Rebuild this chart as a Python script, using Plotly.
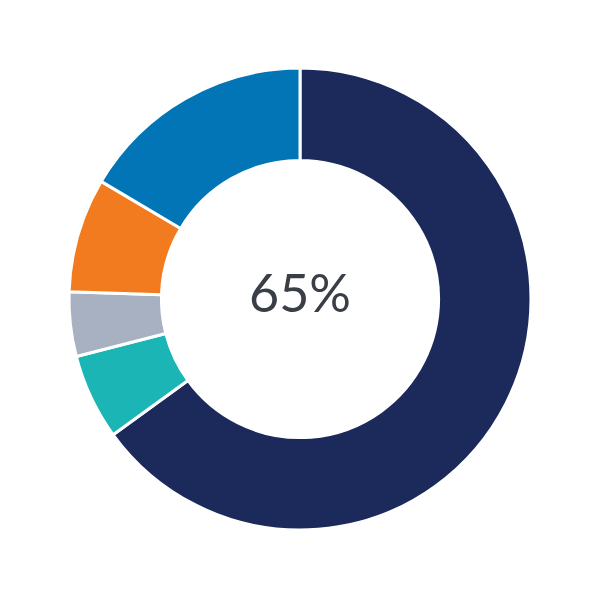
import plotly.graph_objects as go

labels = ["Navy", "Teal", "Gray", "Orange", "Blue"]
values = [65, 6, 4.5, 8, 16.5]
colors = ["#1b2a5b", "#1bb5b5", "#a8b1c1", "#f27b20", "#0175b5"]
center_text = "65%"

# the page body has an 8px margin, so the figure is 8px smaller and the centre shifted
W, H = 592, 591
cx, cy, R = 292, 291, 231

fig = go.Figure(go.Pie(
    labels=labels,
    values=values,
    sort=False,
    direction="clockwise",
    rotation=0,
    hole=0.60,
    marker=dict(colors=colors, line=dict(color="white", width=3)),
    textinfo="none",
    hoverinfo="label+percent",
    domain=dict(x=[(cx - R) / W, (cx + R) / W],
                y=[(H - cy - R) / H, (H - cy + R) / H]),
    showlegend=False,
))

fig.add_annotation(
    text=center_text, x=cx / W, y=(H - cy) / H, xref="paper", yref="paper",
    showarrow=False, font=dict(family="Lato", size=52, color="#3a3f47"),
    xanchor="center", yanchor="middle", yshift=7,
)

fig.update_layout(
    width=W, height=H,
    margin=dict(l=0, r=0, t=0, b=0),
    paper_bgcolor="white", plot_bgcolor="white",
)

fig.write_html("out.html")
